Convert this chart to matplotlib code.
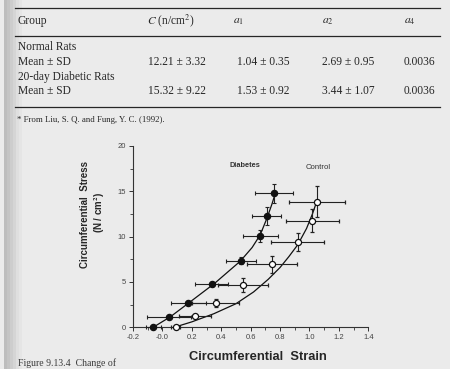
import matplotlib
matplotlib.use("Agg")
import matplotlib.pyplot as plt
from matplotlib.lines import Line2D
from matplotlib.patches import Rectangle
from matplotlib.ticker import MultipleLocator, FixedLocator

# ---------------- data ----------------
table_header = ["Group", "$C$ (n/cm$^2$)", "$a_1$", "$a_2$", "$a_4$"]
normal_row = ["Mean \u00b1 SD", "12.21 \u00b1 3.32", "1.04 \u00b1 0.35", "2.69 \u00b1 0.95", "0.0036"]
diabetic_row = ["Mean \u00b1 SD", "15.32 \u00b1 9.22", "1.53 \u00b1 0.92", "3.44 \u00b1 1.07", "0.0036"]
group_names = ["Normal Rats", "20-day Diabetic Rats"]
footnote = "* From Liu, S. Q. and Fung, Y. C. (1992)."
caption = "Figure 9.13.4  Change of"

diab_x = [-0.061, 0.047, 0.176, 0.334, 0.534, 0.665, 0.708, 0.760]
diab_y = [0.0, 1.17, 2.72, 4.78, 7.35, 10.03, 12.28, 14.77]
diab_xerr = [0.05, 0.15, 0.12, 0.115, 0.10, 0.12, 0.10, 0.13]
diab_yerr = [0.0, 0.1, 0.2, 0.25, 0.4, 0.65, 1.0, 1.07]

ctrl_x = [0.091, 0.223, 0.363, 0.548, 0.747, 0.920, 1.019, 1.051]
ctrl_y = [0.0, 1.25, 2.68, 4.67, 6.94, 9.41, 11.76, 13.86]
ctrl_xerr = [0.03, 0.11, 0.16, 0.17, 0.17, 0.18, 0.18, 0.19]
ctrl_yerr = [0.0, 0.15, 0.4, 0.8, 0.9, 1.0, 1.3, 1.7]

diab_fit_x = [-0.063, 0.055, 0.19, 0.355, 0.53, 0.61, 0.665, 0.71, 0.745, 0.77]
diab_fit_y = [0.0, 1.17, 2.82, 4.85, 7.3, 8.8, 10.2, 12.0, 13.6, 14.9]
ctrl_fit_x = [0.08, 0.2, 0.35, 0.5, 0.62, 0.72, 0.80, 0.86, 0.92, 0.98, 1.02, 1.05]
ctrl_fit_y = [0.0, 0.6, 1.5, 2.6, 3.9, 5.3, 6.6, 7.8, 9.1, 10.9, 12.5, 13.9]

x_ticks = [-0.2, 0.0, 0.2, 0.4, 0.6, 0.8, 1.0, 1.2, 1.4]
x_ticklabels = ["-0.2", "-0.0", "0.2", "0.4", "0.6", "0.8", "1.0", "1.2", "1.4"]
y_ticks = [0, 5, 10, 15, 20]

# ---------------- figure ----------------
W, H = 450, 369
plt.rcParams['mathtext.fontset'] = 'stix'
fig = plt.figure(figsize=(W / 100, H / 100), dpi=100, facecolor='#ebebeb')

def fx(px):
    return px / W

def fy(py):
    return 1 - py / H

# scan shadow at left edge
for i, a in enumerate([0.30, 0.26, 0.20, 0.14, 0.08, 0.04]):
    fig.patches.append(Rectangle((fx(4 + i * 3), 0), fx(3), 1, transform=fig.transFigure,
                                 facecolor='#555555', alpha=a, edgecolor='none', zorder=0))

serif = 'Liberation Serif'
ink = '#262626'

# table rules
for py in [8, 36, 107]:
    fig.add_artist(Line2D([fx(15), fx(440)], [fy(py), fy(py)], transform=fig.transFigure,
                          color=ink, lw=0.9))

col_x = [18, 147, 233, 322, 404]
tfs = 8.3
for i, t in enumerate(table_header):
    fig.text(fx(col_x[i]), fy(21), t, family=serif, fontsize=tfs, color=ink, va='center', ha='left')

fig.text(fx(18), fy(47.5), group_names[0], family=serif, fontsize=tfs, color=ink, va='center')
fig.text(fx(18), fy(77), group_names[1], family=serif, fontsize=tfs, color=ink, va='center')
val_x = [18, 148, 237, 322, 404]
for i, t in enumerate(normal_row):
    fig.text(fx(val_x[i]), fy(62), t, family=serif, fontsize=tfs, color=ink, va='center')
for i, t in enumerate(diabetic_row):
    fig.text(fx(val_x[i]), fy(91), t, family=serif, fontsize=tfs, color=ink, va='center')

fig.text(fx(17), fy(120), footnote, family=serif, fontsize=6.3, color=ink, va='center')

# caption at the bottom edge
fig.text(fx(18), fy(368.5), caption, family=serif, fontsize=7.0, color='#3a3a3a',
         va='bottom', ha='left')

# ---------------- chart ----------------
ax = fig.add_axes([fx(133), fy(327.3), fx(368.3) - fx(133), fy(146) - fy(327.3)])
ax.set_facecolor('none')
ax.set_xlim(-0.2, 1.4)
ax.set_ylim(0, 20)

ax.plot(diab_fit_x, diab_fit_y, color='#111111', lw=0.9, zorder=2)
ax.plot(ctrl_fit_x, ctrl_fit_y, color='#111111', lw=0.9, zorder=2)

ax.errorbar(diab_x, diab_y, xerr=diab_xerr, yerr=diab_yerr, fmt='o', ms=4.4,
            mfc='#111111', mec='#111111', ecolor='#222222', elinewidth=0.8,
            capsize=1.6, capthick=0.8, zorder=3, clip_on=False)
ax.errorbar(ctrl_x, ctrl_y, xerr=ctrl_xerr, yerr=ctrl_yerr, fmt='o', ms=4.4,
            mfc='white', mec='#111111', mew=0.9, ecolor='#222222', elinewidth=0.8,
            capsize=1.6, capthick=0.8, zorder=3, clip_on=False)

for s in ['top', 'right']:
    ax.spines[s].set_visible(False)
for s in ['left', 'bottom']:
    ax.spines[s].set_color('#333333')
    ax.spines[s].set_linewidth(0.8)

ax.xaxis.set_major_locator(FixedLocator(x_ticks))
ax.set_xticklabels(x_ticklabels)
ax.xaxis.set_minor_locator(MultipleLocator(0.1))
ax.yaxis.set_major_locator(FixedLocator(y_ticks))
ax.yaxis.set_minor_locator(MultipleLocator(2.5))
ax.tick_params(axis='both', which='major', direction='out', length=3, width=0.7,
               color='#333333', labelsize=5.5, labelcolor='#444444', pad=2)
ax.tick_params(axis='both', which='minor', direction='out', length=2, width=0.6, color='#333333')
for lab in ax.get_xticklabels() + ax.get_yticklabels():
    lab.set_family('Liberation Sans')

ax.text(0.558, 17.8, "Diabetes", family='Liberation Sans', fontweight='bold', fontsize=5.3,
        color='#333333', ha='center', va='center')
ax.text(1.06, 17.6, "Control", family='Liberation Sans', fontsize=5.6,
        color='#333333', ha='center', va='center')

fig.text(fx(257.5), fy(357.5), "Circumferential  Strain", family='Liberation Sans',
         fontweight='bold', fontsize=9.3, color='#262626', ha='center', va='center')
fig.text(fx(85), fy(215), "Circumferential  Stress", family='Liberation Sans',
         fontweight='bold', fontsize=7.0, color='#262626', ha='center', va='center', rotation=90)
fig.text(fx(100), fy(212), "(N / cm$\\mathbf{^2}$)", family='Liberation Sans',
         fontweight='bold', fontsize=7.0, color='#262626', ha='center', va='center', rotation=90)

fig.savefig("out.png", dpi=100, facecolor=fig.get_facecolor())
